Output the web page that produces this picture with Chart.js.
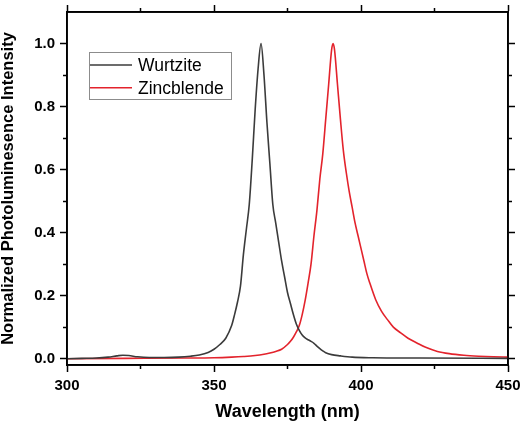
<!DOCTYPE html>
<html>
<head>
<meta charset="utf-8">
<script src="https://cdn.jsdelivr.net/npm/chart.js@4/dist/chart.umd.min.js"></script>
<style>
  html, body { margin: 0; padding: 0; background: #fff; }
  #wrap { width: 520px; height: 423px; }
</style>
</head>
<body>
<div id="wrap"><canvas id="myChart" width="520" height="423"></canvas></div>
<script>
// wavelength (nm) / normalized PL intensity
const wurtziteX = [300, 305, 310, 314, 317, 319, 321, 324, 328, 333, 338, 342, 345, 348, 350, 352, 354, 356, 357, 358, 359, 360, 361, 362, 363, 364, 365, 366, 367, 368, 369, 370, 371, 372, 373, 374, 375, 376, 377, 378, 379, 380, 381, 382, 383, 384, 385, 386, 387, 388, 390, 393, 397, 404, 420, 450];
const wurtziteY = [0.000, 0.001, 0.002, 0.005, 0.009, 0.011, 0.010, 0.006, 0.004, 0.004, 0.005, 0.008, 0.012, 0.020, 0.030, 0.045, 0.065, 0.105, 0.140, 0.180, 0.230, 0.330, 0.410, 0.490, 0.630, 0.790, 0.920, 1.000, 0.900, 0.750, 0.620, 0.490, 0.430, 0.370, 0.310, 0.260, 0.210, 0.175, 0.140, 0.110, 0.090, 0.075, 0.066, 0.060, 0.055, 0.049, 0.040, 0.032, 0.025, 0.019, 0.013, 0.009, 0.005, 0.003, 0.002, 0.001];

const zincblendeX = [300, 320, 340, 350, 356, 360, 364, 367, 369, 371, 373, 375, 376, 377, 378, 379, 380, 381, 382, 383, 384, 385, 386, 387, 388, 389, 390, 390.5, 391, 392, 393, 394, 395, 396, 397, 398, 399, 400, 401, 402, 403, 405, 407, 409, 411, 413.5, 416, 419, 422, 426, 430, 435, 440, 445, 450];
const zincblendeY = [0.000, 0.001, 0.002, 0.003, 0.005, 0.007, 0.010, 0.014, 0.018, 0.023, 0.030, 0.045, 0.055, 0.068, 0.085, 0.105, 0.140, 0.185, 0.240, 0.300, 0.390, 0.470, 0.570, 0.650, 0.760, 0.870, 0.980, 1.000, 0.980, 0.870, 0.760, 0.660, 0.590, 0.530, 0.480, 0.430, 0.390, 0.350, 0.310, 0.270, 0.240, 0.187, 0.150, 0.124, 0.100, 0.082, 0.065, 0.050, 0.036, 0.023, 0.016, 0.011, 0.008, 0.006, 0.005];

const xMajorTicks = [300, 350, 400, 450];
const xMinorTicks = [325, 375, 425];
const yMajorTicks = [0, 0.2, 0.4, 0.6, 0.8, 1.0];
const yMinorTicks = [0.1, 0.3, 0.5, 0.7, 0.9];

const FONT = "Arial, 'Liberation Sans', sans-serif";

document.addEventListener("DOMContentLoaded", () => {
  const ctx = document.getElementById("myChart").getContext("2d");

  const toPoints = (xs, ys) => xs.map((x, i) => ({ x, y: ys[i] }));

  // one axis per side + a zero-size "minor" axis for the short ticks
  const makeAxis = (axis, position, tickValues, tickLength, extra) => {
    const isX = axis === "x";
    return Object.assign({
      type: "linear",
      axis,
      position,
      weight: 0,
      min: isX ? 300 : -0.02,
      max: isX ? 450 : 1.1,
      afterBuildTicks: (scale) => {
        scale.ticks = tickValues.map((v) => ({ value: v }));
      },
      ticks: { display: false },
      grid: {
        drawOnChartArea: false,
        drawTicks: true,
        tickLength,
        tickColor: "#000",
        tickWidth: 1.5,
      },
      border: { display: true, color: "#000", width: 1.5 },
      afterFit: (scale) => {
        if (isX) scale.height = 0;
        else scale.width = 0;
        scale.paddingLeft = scale.paddingRight = 0;
        scale.paddingTop = scale.paddingBottom = 0;
      },
    }, extra || {});
  };

  // plot frame, so all four sides are closed
  const frame = {
    id: "frame",
    afterDraw(chart) {
      const c = chart.ctx;
      const ca = chart.chartArea;
      c.save();
      c.strokeStyle = "#000";
      c.lineWidth = 1.5;
      c.strokeRect(ca.left, ca.top, ca.right - ca.left, ca.bottom - ca.top);
      c.restore();
    },
  };

  const legendBox = {
    id: "legendBox",
    afterDraw(chart) {
      const c = chart.ctx;
      const ca = chart.chartArea;
      const left = ca.left + 22;
      const top = ca.top + 40;
      c.save();
      c.fillStyle = "#fff";
      c.fillRect(left, top, 143, 48);
      c.strokeStyle = "#8c8c8c";
      c.lineWidth = 1;
      c.strokeRect(left + 0.5, top + 0.5, 142, 47);
      c.font = "17.5px " + FONT;
      c.textBaseline = "middle";
      chart.data.datasets.forEach((ds, i) => {
        const y = top + 13 + i * 22.7;
        c.strokeStyle = ds.borderColor;
        c.lineWidth = 1.5;
        c.beginPath();
        c.moveTo(left + 1, y);
        c.lineTo(left + 43, y);
        c.stroke();
        c.fillStyle = "#000";
        c.fillText(ds.label, left + 49, y + 1);
      });
      c.restore();
    },
  };

  new Chart(ctx, {
    type: "line",
    data: {
      datasets: [
        {
          label: "Wurtzite",
          data: toPoints(wurtziteX, wurtziteY),
          borderColor: "#3b3b3b",
          borderWidth: 1.6,
          pointRadius: 0,
          cubicInterpolationMode: "monotone",
          xAxisID: "x",
          yAxisID: "y",
        },
        {
          label: "Zincblende",
          data: toPoints(zincblendeX, zincblendeY),
          borderColor: "#e3232c",
          borderWidth: 1.6,
          pointRadius: 0,
          cubicInterpolationMode: "monotone",
          xAxisID: "x",
          yAxisID: "y",
        },
      ],
    },
    options: {
      responsive: false,
      animation: false,
      layout: { padding: { left: 0, top: 12, right: 12, bottom: 0 } },
      plugins: {
        legend: { display: false },
        tooltip: { enabled: false },
      },
      scales: {
        xMinor: makeAxis("x", "bottom", xMinorTicks, 4),
        x: makeAxis("x", "bottom", xMajorTicks, 7, {
          weight: 5,
          ticks: {
            display: true,
            color: "#000",
            padding: 5,
            maxRotation: 0,
            font: { family: FONT, size: 15, weight: "bold" },
          },
          title: {
            display: true,
            text: "Wavelength (nm)",
            color: "#000",
            padding: { top: 0, bottom: 0 },
            font: { family: FONT, size: 18, weight: "bold", lineHeight: 1.2 },
          },
          afterFit: (scale) => {
            scale.height = 58;
            scale.paddingLeft = scale.paddingRight = 0;
          },
        }),
        xTopMinor: makeAxis("x", "top", xMinorTicks, 4),
        xTop: makeAxis("x", "top", xMajorTicks, 7, { weight: 5 }),
        yMinor: makeAxis("y", "left", yMinorTicks, 4),
        y: makeAxis("y", "left", yMajorTicks, 7, {
          weight: 5,
          ticks: {
            display: true,
            color: "#000",
            padding: 5,
            callback: (v) => v.toFixed(1),
            font: { family: FONT, size: 15, weight: "bold" },
          },
          title: {
            display: true,
            text: "Normalized Photoluminesence Intensity",
            color: "#000",
            padding: { top: 0, bottom: 0 },
            font: { family: FONT, size: 16.5, weight: "bold", lineHeight: 1 },
          },
          afterFit: (scale) => {
            scale.width = 67;
            scale.paddingTop = scale.paddingBottom = 0;
          },
        }),
        yRightMinor: makeAxis("y", "right", yMinorTicks, 4),
        yRight: makeAxis("y", "right", yMajorTicks, 7, { weight: 5 }),
      },
    },
    plugins: [frame, legendBox],
  });
});
</script>
</body>
</html>
